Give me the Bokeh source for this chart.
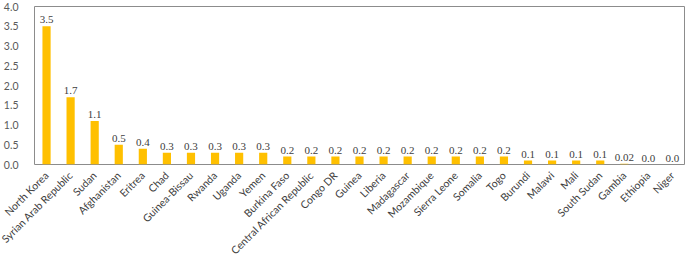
from bokeh.plotting import figure
from bokeh.models import ColumnDataSource, FixedTicker, NumeralTickFormatter, Range1d, LabelSet
from bokeh.embed import file_html
from bokeh.resources import INLINE
from math import pi

countries = ["North Korea", "Syrian Arab Republic", "Sudan", "Afghanistan", "Eritrea", "Chad",
             "Guinea-Bissau", "Rwanda", "Uganda", "Yemen", "Burkina Faso", "Central African Republic",
             "Congo DR", "Guinea", "Liberia", "Madagascar", "Mozambique", "Sierra Leone", "Somalia",
             "Togo", "Burundi", "Malawi", "Mali", "South Sudan", "Gambia", "Ethiopia", "Niger"]
values = [3.5, 1.7, 1.1, 0.5, 0.4, 0.3, 0.3, 0.3, 0.3, 0.3, 0.2, 0.2, 0.2, 0.2, 0.2, 0.2, 0.2,
          0.2, 0.2, 0.2, 0.1, 0.1, 0.1, 0.1, 0.02, 0.0, 0.0]
value_labels = ["3.5", "1.7", "1.1", "0.5", "0.4", "0.3", "0.3", "0.3", "0.3", "0.3", "0.2", "0.2",
                "0.2", "0.2", "0.2", "0.2", "0.2", "0.2", "0.2", "0.2", "0.1", "0.1", "0.1", "0.1",
                "0.02", "0.0", "0.0"]
y_ticks = [0.0, 0.5, 1.0, 1.5, 2.0, 2.5, 3.0, 3.5, 4.0]

FONT = "Lato"
src = ColumnDataSource(dict(country=countries, value=values, label=value_labels))

p = figure(x_range=countries, y_range=Range1d(0, 4), frame_width=650, frame_height=158,
           output_backend="svg", toolbar_location=None,
           min_border_left=33, min_border_right=2, min_border_top=6, min_border_bottom=80,
           margin=(0, 0, 0, 0))

p.vbar(x="country", top="value", width=0.34, source=src, color="#FFC000", line_color=None)

labels = LabelSet(x="country", y="value", text="label", source=src, text_align="center",
                  text_baseline="bottom", y_offset=3, text_font=FONT, text_font_size="11px",
                  text_color="#404040")
p.add_layout(labels)

p.outline_line_color = "#8C8C8C"
p.outline_line_width = 1
p.xgrid.grid_line_color = None
p.ygrid.grid_line_color = None
p.background_fill_color = "white"
p.border_fill_color = "white"

p.yaxis.ticker = FixedTicker(ticks=y_ticks)
p.yaxis.formatter = NumeralTickFormatter(format="0.0")
p.yaxis.axis_line_color = None
p.yaxis.major_tick_line_color = None
p.yaxis.minor_tick_line_color = None
p.yaxis.major_label_standoff = 10
p.yaxis.major_label_text_font = FONT
p.yaxis.major_label_text_font_size = "10.5px"
p.yaxis.major_label_text_color = "#595959"

p.xaxis.axis_line_color = None
p.xaxis.major_tick_line_color = None
p.xaxis.major_label_orientation = pi / 4
p.xaxis.major_label_standoff = 3
p.xaxis.major_label_text_font = FONT
p.xaxis.major_label_text_font_size = "10.5px"
p.xaxis.major_label_text_color = "#404040"

open("out.html", "w").write(file_html(p, INLINE))
